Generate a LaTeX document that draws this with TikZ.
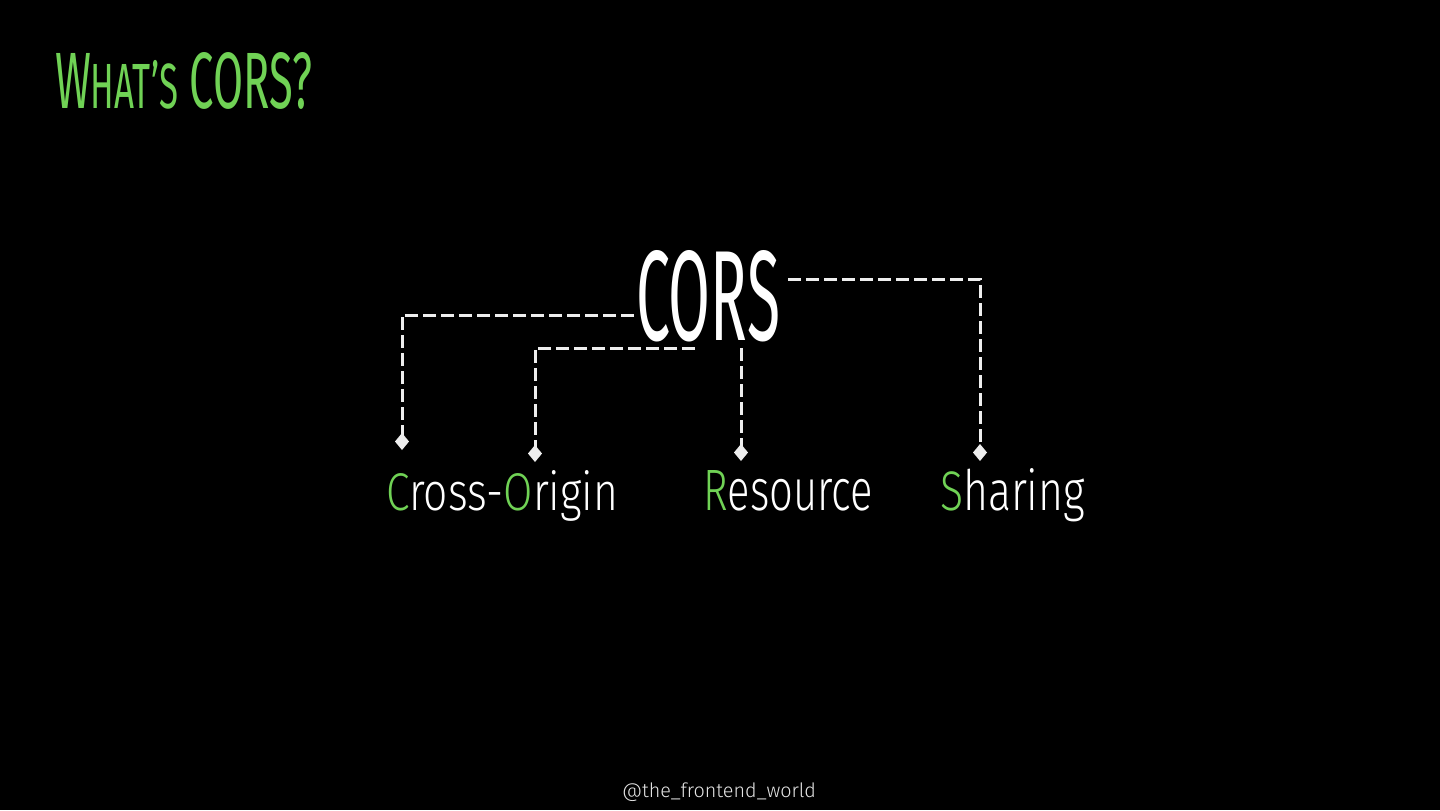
\documentclass[tikz,border=0pt]{standalone}
\usepackage{fontspec}
\usepackage{graphicx}
\usetikzlibrary{arrows.meta}
\setmainfont{Fira Sans}
\newfontfamily\handfont{Fira Sans Light}
\definecolor{corsgreen}{RGB}{112,210,85}
\definecolor{linewhite}{RGB}{238,238,238}
\newcommand\fitbox[3]{\resizebox{#1}{#2}{#3}}
\tikzset{
  word/.style={inner sep=0pt, outer sep=0pt, anchor=base west, text=white},
  conn/.style={draw=linewhite, line width=1.5pt, dash pattern=on 6.5pt off 2.5pt,
    -{Diamond[length=8.5pt,width=7pt]}},
}
\begin{document}
\begin{tikzpicture}[x=0.5pt,y=-0.5pt]
\fill[black] (0,0) rectangle (1440,810);
\useasboundingbox (0,0) rectangle (1440,810);

% title
\node[word, text=corsgreen] (title) at (55,108)
  {\fitbox{128.5pt}{28pt}{\fontsize{20}{20}\selectfont W\fontsize{16}{16}\selectfont HAT’S\fontsize{20}{20}\selectfont\ CORS?}};

% central word
\node[word] (cors) at (636,340) {\fitbox{72pt}{45pt}{CORS}};

% words
\node[word] (cross) at (386,510)
  {\fitbox{116pt}{20pt}{\handfont{\color{corsgreen}C}ross-{\color{corsgreen}O}rigin}};
\node[word] (resource) at (703,510)
  {\fitbox{85pt}{20pt}{\handfont{\color{corsgreen}R}esource}};
\node[word] (sharing) at (940,510)
  {\fitbox{72.5pt}{21pt}{\handfont{\color{corsgreen}S}haring}};

% footer
\node[word, text=white!90!black] (footer) at (622,797)
  {\fitbox{97pt}{!}{\handfont @the\_frontend\_world}};

% connector anchor points
\coordinate (s1) at (634,315);
\coordinate (e1) at (402,450);
\coordinate (s2) at (695,348);
\coordinate (e2) at (535,462);
\coordinate (s3) at (741,348);
\coordinate (e3) at (741,461);
\coordinate (s4) at (788,279);
\coordinate (e4) at (980,461);

\draw[conn] (s1) -| (e1);
\draw[conn] (s2) -| (e2);
\draw[conn] (s3) -- (e3);
\draw[conn] (s4) -| (e4);
\end{tikzpicture}
\end{document}
